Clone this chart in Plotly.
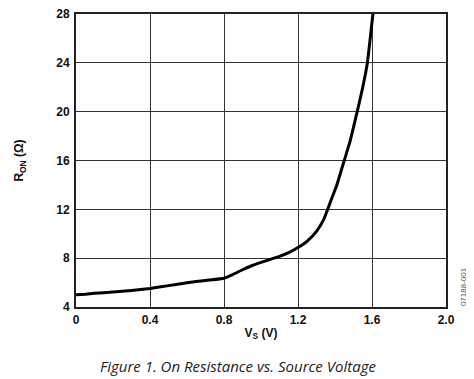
import plotly.graph_objects as go

# Source voltage (V) and on-resistance (ohm)
vs = [0, 0.05, 0.1, 0.2, 0.3, 0.4, 0.5, 0.6, 0.7, 0.8, 0.85, 0.9, 0.95, 1.0, 1.07,
      1.1, 1.15, 1.2, 1.25, 1.3, 1.34, 1.38, 1.41, 1.45, 1.48, 1.52, 1.55, 1.575, 1.605, 1.62]
ron = [5.0, 5.05, 5.12, 5.22, 5.35, 5.52, 5.75, 5.98, 6.18, 6.36, 6.68, 7.05, 7.38, 7.65, 8.0,
       8.15, 8.45, 8.87, 9.4, 10.2, 11.2, 12.8, 14.0, 16.0, 17.5, 20.0, 22.0, 24.0, 28.0, 30.0]

x_ticks = [0, 0.4, 0.8, 1.2, 1.6, 2.0]
x_tick_labels = ["0", "0.4", "0.8", "1.2", "1.6", "2.0"]
y_ticks = [4, 8, 12, 16, 20, 24, 28]
y_tick_labels = ["4", "8", "12", "16", "20", "24", "28"]

fig = go.Figure()
fig.add_trace(go.Scatter(
    x=vs, y=ron, mode="lines",
    line=dict(color="black", width=3, shape="spline", smoothing=0.4),
    showlegend=False, hoverinfo="skip",
))

tick_font = dict(family="Liberation Sans, Arial, sans-serif", size=12, color="#111")

# page body has an 8px default margin, so the figure is sized 8px smaller
fig.update_layout(
    width=466, height=371,
    margin=dict(l=68, r=28, t=6, b=72),
    paper_bgcolor="white", plot_bgcolor="white",
    xaxis=dict(
        range=[0, 2.0], tickvals=x_ticks, ticktext=["<b>%s</b>" % t for t in x_tick_labels],
        showgrid=True, gridcolor="#333", gridwidth=1.3,
        showline=True, linecolor="#222", linewidth=2, mirror=True,
        zeroline=False, ticks="", tickfont=tick_font, ticklabelstandoff=1,
        automargin=False, ticklabeloverflow="allow",
        title=dict(text="<b>V<sub>S</sub> (V)</b>", font=tick_font, standoff=2),
    ),
    yaxis=dict(
        range=[4, 28], tickvals=y_ticks, ticktext=["<b>%s</b>" % t for t in y_tick_labels],
        showgrid=True, gridcolor="#333", gridwidth=1.3,
        showline=True, linecolor="#222", linewidth=2, mirror=True,
        zeroline=False, ticks="", tickfont=tick_font, ticklabelstandoff=2,
        automargin=False, ticklabeloverflow="allow",
        title=dict(text="<b>R<sub>ON</sub> (Ω)</b>", font=tick_font, standoff=30),
    ),
    annotations=[
        dict(text="<i>Figure 1. On Resistance vs. Source Voltage</i>", xref="paper", yref="paper",
             x=0.438, y=-0.2, xanchor="center", yanchor="middle", showarrow=False,
             font=dict(family="Open Sans, sans-serif", size=15, color="#222")),
        dict(text="07188-001", xref="paper", yref="paper", x=1.046, y=0.068,
             xanchor="center", yanchor="middle", textangle=-90, showarrow=False,
             font=dict(family="Liberation Sans, Arial, sans-serif", size=8, color="#555")),
    ],
)

fig.write_html("out.html")
